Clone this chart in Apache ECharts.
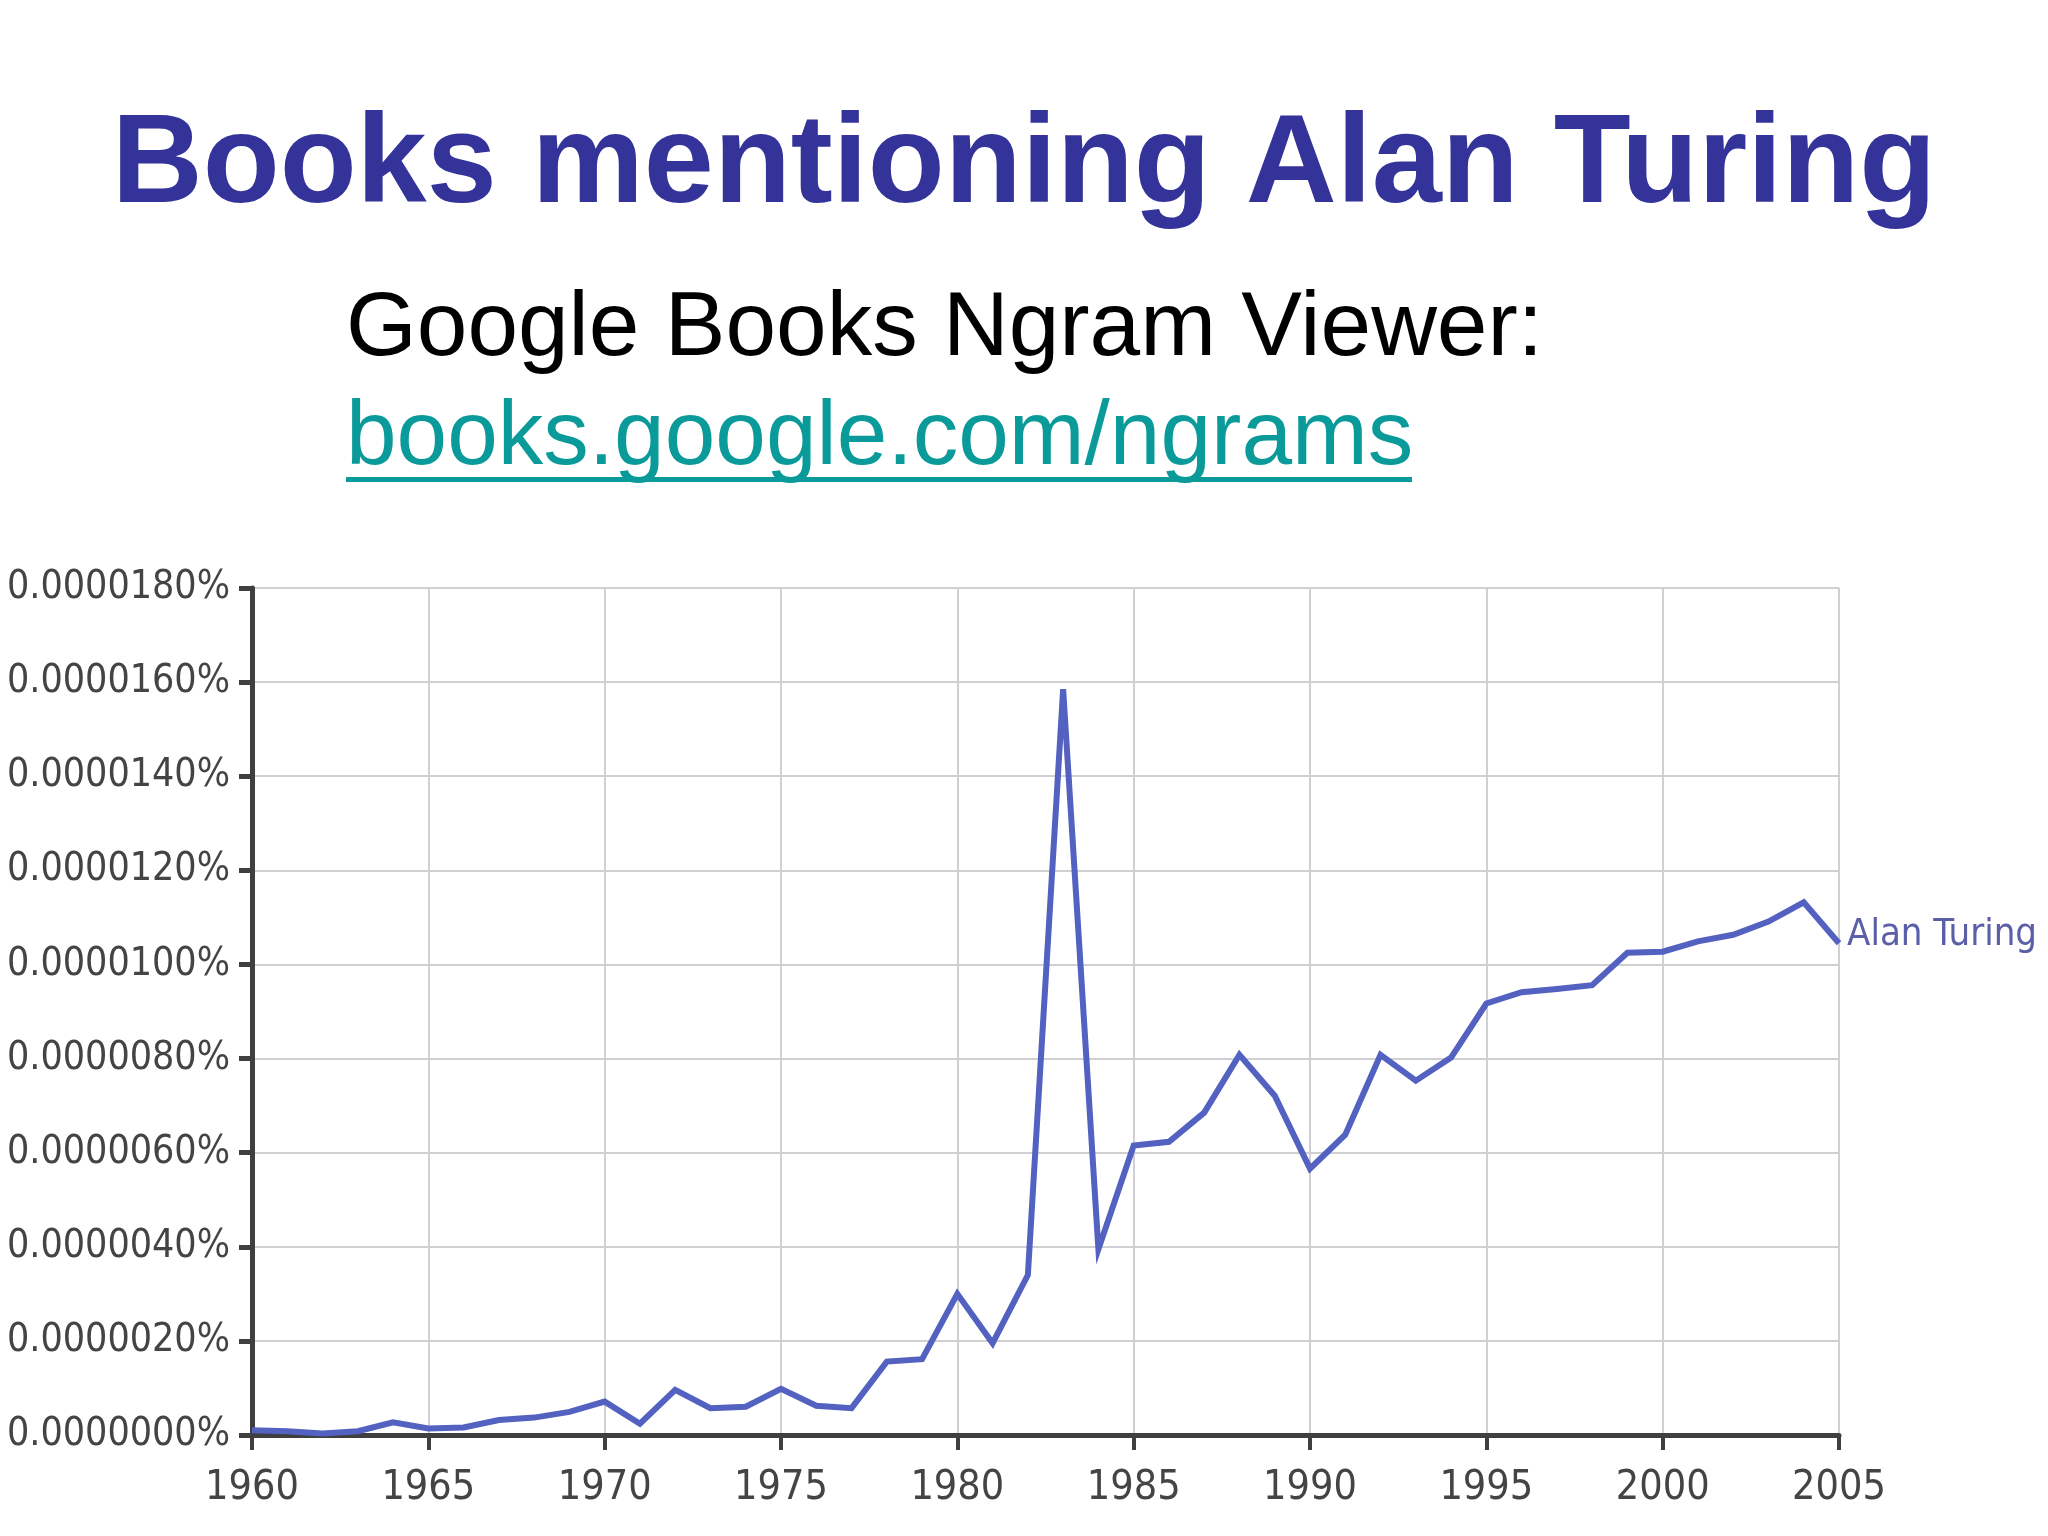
<!DOCTYPE html>
<html>
<head>
<meta charset="utf-8">
<script src="https://cdn.jsdelivr.net/npm/echarts@6/dist/echarts.min.js"></script>
<style>
html,body{margin:0;padding:0;background:#ffffff;}
#chart{width:2048px;height:1536px;}
</style>
</head>
<body>
<div id="chart"></div>
<script>
// Chart texts
const titleText = 'Books mentioning Alan Turing';
const subtitleText = 'Google Books Ngram Viewer:';
const linkText = 'books.google.com/ngrams';
const seriesName = 'Alan Turing';

// Years (x axis)
const years = [1960,1961,1962,1963,1964,1965,1966,1967,1968,1969,
               1970,1971,1972,1973,1974,1975,1976,1977,1978,1979,
               1980,1981,1982,1983,1984,1985,1986,1987,1988,1989,
               1990,1991,1992,1993,1994,1995,1996,1997,1998,1999,
               2000,2001,2002,2003,2004,2005];

// Frequency in units of 0.0000001 % (e.g. 158 = 0.0000158%)
const frequencyE7 = [1.0,0.8,0.3,0.8,2.7,1.4,1.6,3.2,3.7,4.9,
                     7.1,2.4,9.6,5.7,6.0,9.8,6.2,5.7,15.6,16.1,
                     30.0,19.5,34.0,158.5,39.5,61.5,62.3,68.5,80.8,72.1,
                     56.6,63.8,80.8,75.3,80.2,91.7,94.1,94.8,95.6,102.5,
                     102.7,104.9,106.3,109.1,113.2,104.5];

// Axis ranges / ticks
const xMin = 1960, xMax = 2005, xStep = 5;
const yMin = 0, yMax = 180, yStep = 20;

const seriesData = years.map((y, i) => [y, frequencyE7[i]]);

const narrow = '"Liberation Sans Narrow", "Arial Narrow", "DejaVu Sans Condensed", sans-serif';
const sans = '"Liberation Sans", Arial, Helvetica, sans-serif';

const chart = echarts.init(document.getElementById('chart'), null, {renderer: 'canvas'});

chart.setOption({
  backgroundColor: '#ffffff',
  animation: false,
  grid: { left: 252, right: 209, top: 588, bottom: 101, containLabel: false, outerBoundsMode: 'none' },
  xAxis: {
    type: 'value',
    min: xMin, max: xMax, interval: xStep,
    axisLine: { show: true, onZero: false, lineStyle: { color: '#3f3f3f', width: 5 } },
    axisTick: { show: true, length: 15, lineStyle: { color: '#3f3f3f', width: 4 } },
    axisLabel: {
      margin: 33,
      color: '#444444',
      fontFamily: narrow,
      fontSize: 41,
      formatter: v => String(v)
    },
    splitLine: { show: true, lineStyle: { color: '#cfcfd4', width: 2 } }
  },
  yAxis: {
    type: 'value',
    min: yMin, max: yMax, interval: yStep,
    axisLine: { show: true, lineStyle: { color: '#3f3f3f', width: 5 } },
    axisTick: { show: true, length: 13, lineStyle: { color: '#3f3f3f', width: 5 } },
    axisLabel: {
      margin: 22,
      color: '#444444',
      fontFamily: narrow,
      fontSize: 39,
      formatter: v => (v / 1e7).toFixed(7) + '%'
    },
    splitLine: { show: true, lineStyle: { color: '#cfcfd4', width: 2 } }
  },
  series: [{
    name: seriesName,
    type: 'line',
    data: seriesData,
    showSymbol: false,
    symbol: 'none',
    lineStyle: { color: '#5361c0', width: 6, join: 'miter' },
    endLabel: {
      show: true,
      formatter: seriesName,
      distance: 8,
      offset: [0, -8],
      color: '#5a5fa8',
      fontFamily: narrow,
      fontSize: 38
    }
  }],
  graphic: [
    {
      type: 'text', left: 'center', top: 104,
      style: { text: titleText, fill: '#333399', font: 'bold 126px ' + sans }
    },
    {
      type: 'text', x: 346, y: 330,
      style: { text: subtitleText, fill: '#000000', font: '91px ' + sans, verticalAlign: 'middle', align: 'left' }
    },
    {
      type: 'text', x: 346, y: 439,
      style: { text: linkText, fill: '#0a9a9a', font: '91px ' + sans, verticalAlign: 'middle', align: 'left' }
    },
    {
      type: 'rect', shape: { x: 346, y: 477, width: 1066, height: 5 },
      style: { fill: '#0a9a9a' }
    }
  ]
});
</script>
</body>
</html>
